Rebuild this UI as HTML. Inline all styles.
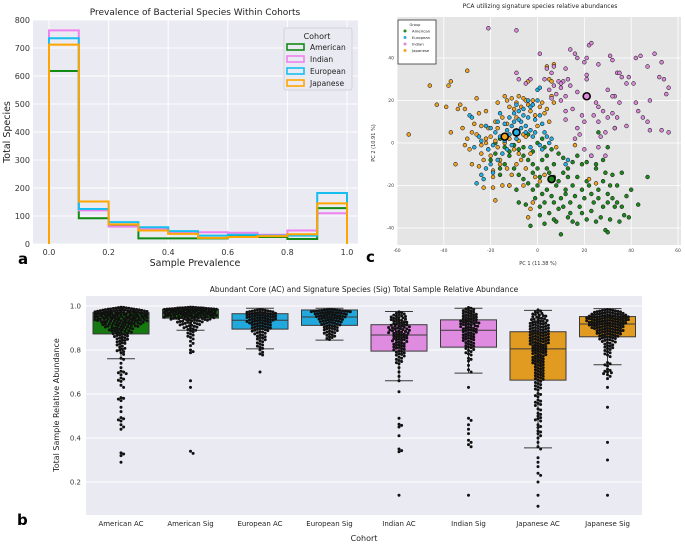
<!DOCTYPE html>
<html><head><meta charset="utf-8"><style>
html,body{margin:0;padding:0;background:#fff}
svg text{font-family:"DejaVu Sans","Liberation Sans",sans-serif}
</style></head><body>
<svg id="fig" width="685" height="546" viewBox="0 0 685 546" xmlns="http://www.w3.org/2000/svg">
<rect width="685" height="546" fill="#fff"/>
<g id="pa"></g>
<g id="pc"></g>
<g id="pb"></g>
</svg>
<script>
// ---------- Panel a data ----------
const histBins = [0,0.1,0.2,0.3,0.4,0.5,0.6,0.7,0.8,0.9,1.0];
const histSeries = ["American","Indian","European","Japanese"];
const histAmerican = [618,92,68,20,20,20,28,25,18,128];
const histIndian   = [763,120,62,55,40,42,40,33,48,110];
const histEuropean = [735,125,78,60,46,30,33,30,30,182];
const histJapanese = [712,152,70,48,36,22,25,28,35,145];
const histXTicks = [0,0.2,0.4,0.6,0.8,1.0];
const histYTicks = [0,100,200,300,400,500,600,700,800];

// ---------- Panel c data ----------
const pcaIndian = [[-21,54],[-9,53],[1,42],[14,44],[16,42],[17,40],[20,38],[21,40],[22,46],[23,47],[26,37],[31,41],[32,39],[34,33],[35,33],[36,31],[39,31],[38,28],[41,28],[42,40],[44,41],[47,36],[50,42],[53,38],[52,31],[54,30],[56,26],[55,23],[48,20],[42,19],[43,15],[45,12],[47,10],[48,6],[53,6],[56,5],[38,8],[33,7],[32,14],[35,19],[33,22],[32,22],[25,19],[26,17],[28,15],[30,12],[26,10],[24,13],[20,10],[19,13],[17,7],[18,4],[15,16],[12,15],[12,11],[10,20],[8,23],[10,26],[9,29],[11,29],[13,30],[14,27],[17,24],[12,22],[6,21],[5,25],[3,30],[4,35],[6,33],[7,36],[-3,30],[-5,28],[-9,33],[-8,30],[30,25],[34,12],[21,32],[21,30],[12,35],[10,28],[7,27],[16,2],[20,-3],[23,-6],[29,-6],[29,5],[27,3],[26,-2]];
const pcaEuropean = [[-29,13],[-28,12],[-22,8],[-20,7],[-18,5],[-16,3],[-17,10],[-14,9],[-12,12],[-10,14],[-8,15],[-6,16],[-4,12],[-3,17],[-1,11],[1,13],[2,9],[3,5],[4,3],[6,2],[1,-1],[-2,3],[-5,5],[-7,7],[-9,2],[-11,-1],[-13,-3],[-15,-5],[-17,-8],[-20,-10],[-22,-12],[-24,-15],[-26,-19],[-23,-17],[-19,-14],[-21,-3],[-19,-1],[-24,1],[-13,6],[-11,8],[-7,10],[-5,8],[-3,6],[-1,5],[0,25],[1,26],[0,20],[-2,18],[-4,20],[-6,13],[-8,11],[-10,10],[-12,4],[-14,1],[12,-10],[13,-8],[-27,-2],[-25,3],[-3,-2],[2,-3],[5,0],[-16,14],[-9,18]];
const pcaJapanese = [[-55,4],[-46,27],[-43,18],[-39,17],[-38,27],[-37,29],[-37,5],[-35,-10],[-34,16],[-33,18],[-32,7],[-31,16],[-31,-1],[-30,34],[-30,2],[-29,-3],[-28,-10],[-27,9],[-26,4],[-26,21],[-25,14],[-25,-11],[-24,-1],[-24,-5],[-23,-21],[-22,15],[-22,2],[-21,-3],[-20,-6],[-19,-21],[-19,-16],[-18,-27],[-18,10],[-17,19],[-17,-2],[-16,-8],[-15,12],[-14,22],[-13,20],[-12,17],[-11,21],[-10,16],[-9,19],[-8,22],[-7,17],[-6,21],[-5,20],[-4,18],[-3,15],[-2,20],[-1,13],[0,8],[1,17],[2,19],[3,14],[4,16],[5,10],[6,22],[7,19],[4,36],[5,30],[6,29],[7,37],[-4,29],[-16,-10],[-15,-20],[-13,-12],[-11,-15],[-9,-10],[-7,-8],[-5,-12],[-3,-5],[-1,-16],[1,-18],[-2,-28],[-3,-31],[-4,-35],[-22,0],[-20,3],[-18,1],[-14,0],[-12,2],[-10,-3],[-8,1],[-6,4],[-24,8],[-28,5],[-21,7],[-17,7],[-13,9],[-9,12],[-5,3],[3,-15],[8,-2],[16,-1],[22,-17],[25,-19],[-12,-20],[-6,-20],[-8,-5],[-19,-13],[-23,-8],[-22,2]];
const pcaAmerican = [[-18,0],[-16,2],[-14,-2],[-12,-4],[-10,-1],[-8,-3],[-6,-6],[-4,-8],[-2,-10],[0,-12],[2,-8],[4,-6],[6,-3],[3,-2],[7,-10],[9,-5],[11,-7],[13,-12],[15,-9],[17,-6],[19,-10],[21,-9],[23,-6],[25,-10],[-10,-12],[-8,-15],[-6,-17],[-4,-19],[-2,-22],[0,-20],[2,-24],[4,-22],[6,-25],[8,-20],[10,-26],[12,-22],[14,-28],[16,-25],[18,-30],[20,-26],[22,-20],[24,-28],[26,-22],[28,-18],[30,-24],[32,-15],[34,-20],[36,-14],[38,-25],[40,-22],[43,-29],[47,-16],[-3,-39],[-5,-29],[-8,-28],[-12,-20],[-14,-10],[-16,-12],[-18,-5],[-20,-8],[10,-43],[8,-37],[7,-36],[13,-35],[15,-37],[17,-38],[19,-33],[21,-36],[23,-32],[25,-37],[27,-35],[29,-41],[30,-42],[31,-36],[33,-30],[35,-37],[37,-34],[39,-35],[14,-33],[11,-30],[9,-31],[5,-33],[1,-30],[-1,-26],[3,-28],[5,-14],[7,-16],[9,-18],[11,-14],[13,-16],[15,-20],[17,-16],[19,-22],[21,-18],[23,-24],[26,-26],[28,-30],[30,-28],[32,-26],[34,-28],[36,-30],[25,-12],[28,-8],[30,-2],[33,7],[26,5],[29,-14],[31,-20],[-2,-14],[1,-16],[4,-12],[-6,-2],[-4,4],[-2,-4],[0,0],[2,2],[-12,-6],[-16,-15],[-9,-22],[7,-28],[12,-24],[3,-38],[1,-34]];
const pcaCentroids = [[6,-17],[-9,5],[21,22],[-14,3]];
const pcaXTicks = [-60,-40,-20,0,20,40,60];
const pcaYTicks = [-40,-20,0,20,40];

// ---------- Panel b data ----------
const boxCats = ["American AC","American Sig","European AC","European Sig","Indian AC","Indian Sig","Japanese AC","Japanese Sig"];
const boxQ1  = [0.873,0.945,0.895,0.912,0.795,0.813,0.663,0.860];
const boxMed = [0.935,0.965,0.935,0.950,0.868,0.890,0.805,0.918];
const boxQ3  = [0.970,0.985,0.965,0.982,0.915,0.937,0.883,0.952];
const boxLo  = [0.760,0.890,0.805,0.845,0.660,0.695,0.355,0.733];
const boxHi  = [0.990,0.995,0.990,0.990,0.975,0.990,0.980,0.988];
const boxYTicks = [0.2,0.4,0.6,0.8,1.0];
const swarmVals = [
 [0.99,0.98,0.97,0.96,0.95,0.94,0.93,0.92,0.91,0.90,0.89,0.88,0.87,0.86,0.85,0.84,0.83,0.82,0.81,0.80,0.79,0.78,0.76,0.74,0.72,0.70,0.69,0.67,0.66,0.64,0.63,0.58,0.57,0.54,0.52,0.49,0.48,0.46,0.45,0.44,0.33,0.32,0.29],
 [0.99,0.98,0.97,0.96,0.95,0.94,0.93,0.92,0.91,0.90,0.89,0.88,0.87,0.86,0.85,0.84,0.83,0.82,0.80,0.79,0.66,0.63,0.34,0.33],
 [0.98,0.97,0.96,0.95,0.94,0.93,0.92,0.91,0.90,0.89,0.88,0.87,0.86,0.85,0.84,0.83,0.82,0.81,0.80,0.79,0.78,0.70],
 [0.98,0.97,0.96,0.95,0.94,0.93,0.92,0.91,0.90,0.89,0.88,0.87,0.86,0.85],
 [0.97,0.96,0.95,0.94,0.93,0.92,0.91,0.90,0.89,0.88,0.87,0.86,0.85,0.84,0.83,0.82,0.81,0.80,0.79,0.78,0.77,0.76,0.75,0.74,0.72,0.70,0.68,0.66,0.61,0.49,0.46,0.45,0.41,0.35,0.34,0.14],
 [0.99,0.98,0.97,0.96,0.95,0.94,0.93,0.92,0.91,0.90,0.89,0.88,0.87,0.86,0.85,0.84,0.83,0.82,0.81,0.80,0.79,0.78,0.76,0.75,0.73,0.71,0.70,0.63,0.49,0.48,0.46,0.44,0.42,0.39,0.38,0.37,0.36,0.14],
 [0.98,0.97,0.96,0.95,0.94,0.93,0.92,0.91,0.90,0.89,0.88,0.87,0.86,0.85,0.84,0.83,0.82,0.81,0.80,0.79,0.78,0.77,0.76,0.75,0.74,0.73,0.72,0.71,0.70,0.69,0.68,0.67,0.66,0.65,0.64,0.63,0.62,0.60,0.59,0.57,0.56,0.55,0.53,0.51,0.50,0.49,0.48,0.46,0.45,0.43,0.42,0.41,0.40,0.38,0.36,0.35,0.31,0.29,0.27,0.24,0.23,0.20,0.14,0.09],
 [0.98,0.97,0.96,0.95,0.94,0.93,0.92,0.91,0.90,0.89,0.88,0.87,0.86,0.85,0.84,0.83,0.82,0.81,0.80,0.79,0.78,0.77,0.74,0.73,0.71,0.70,0.69,0.68,0.67,0.63,0.54,0.38,0.30,0.14]
];
const swarmCounts = [
 [10,18,22,24,22,18,14,12,10,8,7,6,5,4,4,3,3,2,2,3,2,1,2,1,1,3,2,2,2,1,1,3,1,1,1,2,2,1,1,1,2,1,1],
 [20,26,26,22,16,12,8,6,5,4,3,2,2,2,1,1,1,1,1,2,1,1,1,1],
 [8,10,10,10,9,8,7,6,6,5,4,3,3,3,2,2,2,2,1,1,2,1],
 [14,12,10,10,8,7,6,5,5,4,4,3,3,2],
 [3,4,5,5,5,5,6,6,6,6,5,5,5,4,4,4,4,3,3,3,2,2,2,2,1,1,1,1,1,1,2,1,1,1,2,1],
 [3,4,4,5,5,5,6,6,5,5,5,4,4,4,4,3,3,3,3,2,2,2,2,1,1,1,1,1,1,1,1,1,1,1,1,1,1,1],
 [2,3,4,4,5,5,6,6,6,6,6,6,6,6,6,6,5,5,5,5,4,4,4,4,4,3,3,3,3,3,3,3,2,2,2,2,2,2,2,2,2,2,2,2,1,2,2,1,2,2,1,1,1,1,1,1,1,1,1,1,1,1,1,1],
 [8,10,12,14,14,13,12,11,10,9,8,7,6,5,4,3,3,3,2,2,2,1,2,2,2,3,2,1,1,1,1,1,1,1]
];

const NS="http://www.w3.org/2000/svg";
function el(parent,tag,attrs,text){const e=document.createElementNS(NS,tag);for(const k in attrs)e.setAttribute(k,attrs[k]);if(text!==undefined)e.textContent=text;parent.appendChild(e);return e;}

// ===== Panel a =====
(function(){
 const g=document.getElementById('pa');
 const L=33,R=358,T=20,B=244;
 const xs=v=>49+v*298, ys=v=>244-v/800*224;
 const bg=el(g,'rect',{x:L,y:T,width:R-L,height:B-T,fill:'#eaeaf2'});
 
 histXTicks.forEach(t=>{el(g,'line',{x1:xs(t),x2:xs(t),y1:T,y2:B,stroke:'#fff','stroke-width':1});
  const tx=el(g,'text',{x:xs(t),y:B+11,'font-size':8,'text-anchor':'middle',fill:'#333'},t.toFixed(1));
  });
 histYTicks.forEach(t=>{el(g,'line',{x1:L,x2:R,y1:ys(t),y2:ys(t),stroke:'#fff','stroke-width':1});
  const tx=el(g,'text',{x:L-3,y:ys(t)+3,'font-size':8,'text-anchor':'end',fill:'#333'},t);
  });
 const cols={American:'#138a13',Indian:'#ee82ee',European:'#16bff0',Japanese:'#ffa500'};
 const data={American:histAmerican,Indian:histIndian,European:histEuropean,Japanese:histJapanese};
 histSeries.forEach(s=>{
  const v=data[s];let d=`M${xs(histBins[0])},${ys(0)}`;
  v.forEach((c,i)=>{d+=` L${xs(histBins[i])},${ys(c)} L${xs(histBins[i+1])},${ys(c)}`;});
  d+=` L${xs(histBins[histBins.length-1])},${ys(0)}`;
  const p=el(g,'path',{d:d,fill:'none',stroke:cols[s],'stroke-width':2});
  
 });
 const t=el(g,'text',{x:195,y:15,'font-size':9,'text-anchor':'middle',fill:'#222'},'Prevalence of Bacterial Species Within Cohorts');
 
 const xl=el(g,'text',{x:195,y:266,'font-size':9.5,'text-anchor':'middle',fill:'#222'},'Sample Prevalence');
 
 const yl=el(g,'text',{x:10,y:132,'font-size':9.5,'text-anchor':'middle',fill:'#222',transform:'rotate(-90 10 132)'},'Total Species');
 
 const lab=el(g,'text',{x:18,y:264,'font-size':15,'font-weight':'bold',fill:'#000'},'a');
 
 const lg=el(g,'g',{});
 el(lg,'rect',{x:284,y:28,width:68,height:62,fill:'#eaeaf2',stroke:'#ccc','stroke-width':0.8,rx:2});
 el(lg,'text',{x:317,y:39,'font-size':8,'text-anchor':'middle',fill:'#222'},'Cohort');
 histSeries.forEach((s,i)=>{const y=47+i*12;
  const r=el(lg,'rect',{x:287,y:y-3,width:17,height:6,fill:'none',stroke:cols[s],'stroke-width':1.6});
  
  el(lg,'text',{x:310,y:y+3,'font-size':7.5,fill:'#222'},s);});
})();

// ===== Panel c =====
(function(){
 const g=document.getElementById('pc');
 const L=397,R=681,T=17,B=245;
 const xs=v=>397+(v+60)/120*281, ys=v=>143-v*2.125;
 const bg=el(g,'rect',{x:L,y:T,width:R-L,height:B-T,fill:'#e5e5e5'});
 
 pcaXTicks.forEach(t=>{el(g,'line',{x1:xs(t),x2:xs(t),y1:T,y2:B,stroke:'#fff','stroke-width':0.8});
  el(g,'text',{x:xs(t),y:B+7,'font-size':4.5,'text-anchor':'middle',fill:'#444'},t);});
 pcaYTicks.forEach(t=>{el(g,'line',{x1:L,x2:R,y1:ys(t),y2:ys(t),stroke:'#fff','stroke-width':0.8});
  el(g,'text',{x:L-3,y:ys(t)+1.5,'font-size':4.5,'text-anchor':'end',fill:'#444'},t);});
 const groups=[['american',pcaAmerican,'#1a8a1a'],['european',pcaEuropean,'#1eb0e6'],['indian',pcaIndian,'#dd88dd'],['japanese',pcaJapanese,'#f3a320']];
 const order=[0,3,1,2];
 order.forEach(i=>{const [n,pts,c]=groups[i];
  pts.forEach(p=>{const d=el(g,'circle',{cx:xs(p[0]),cy:ys(p[1]),r:1.9,fill:c,stroke:'#222','stroke-width':0.6});
   });});
 pcaCentroids.forEach((p,i)=>{const d=el(g,'circle',{cx:xs(p[0]),cy:ys(p[1]),r:3.5,fill:groups[i][2],stroke:'#000','stroke-width':1.6});
  });
 const t=el(g,'text',{x:540,y:8,'font-size':6,'text-anchor':'middle',fill:'#222'},'PCA utilizing signature species relative abundances');
 
 const xl=el(g,'text',{x:538,y:265,'font-size':5,'text-anchor':'middle',fill:'#333'},'PC 1 (11.38 %)');
 
 const yl=el(g,'text',{x:375,y:143,'font-size':5,'text-anchor':'middle',fill:'#333',transform:'rotate(-90 375 143)'},'PC 2 (10.91 %)');
 
 const lab=el(g,'text',{x:366,y:262,'font-size':15,'font-weight':'bold',fill:'#000'},'c');
 
 const lg=el(g,'g',{});
 el(lg,'rect',{x:398,y:20,width:38,height:44,fill:'#fff',stroke:'#333','stroke-width':0.8});
 el(lg,'text',{x:415,y:26,'font-size':3.6,'text-anchor':'middle',fill:'#222'},'Group');
 ['American','European','Indian','Japanese'].forEach((s,i)=>{const y=31+i*6.5;
  const cc=[groups[0][2],groups[1][2],groups[2][2],groups[3][2]][i];
  const d=el(lg,'circle',{cx:405,cy:y,r:1.5,fill:cc});
  
  el(lg,'text',{x:412,y:y+1.3,'font-size':3.8,fill:'#222'},s);});
})();

// ===== Panel b =====
(function(){
 const g=document.getElementById('pb');
 const L=86,R=642,T=296,B=515;
 const ys=v=>306+(1-v)*220;
 const xc=i=>121+i*69.5;
 const bw=56;
 const bg=el(g,'rect',{x:L,y:T,width:R-L,height:B-T,fill:'#eaeaf2'});
 
 boxYTicks.forEach(t=>{el(g,'line',{x1:L,x2:R,y1:ys(t),y2:ys(t),stroke:'#fff','stroke-width':1});
  const tx=el(g,'text',{x:L-5,y:ys(t)+2.5,'font-size':7,'text-anchor':'end',fill:'#333'},t.toFixed(1));
  });
 const cols=['#15790f','#15790f','#21a8dc','#21a8dc','#df8ce0','#df8ce0','#e29b21','#e29b21'];
 boxCats.forEach((c,i)=>{
  const x=xc(i);
  const bx=el(g,'g',{});
  el(bx,'line',{x1:x,x2:x,y1:ys(boxHi[i]),y2:ys(boxQ3[i]),stroke:'#3a3a3a','stroke-width':1});
  el(bx,'line',{x1:x,x2:x,y1:ys(boxQ1[i]),y2:ys(boxLo[i]),stroke:'#3a3a3a','stroke-width':1});
  el(bx,'line',{x1:x-14,x2:x+14,y1:ys(boxHi[i]),y2:ys(boxHi[i]),stroke:'#3a3a3a','stroke-width':1});
  el(bx,'line',{x1:x-14,x2:x+14,y1:ys(boxLo[i]),y2:ys(boxLo[i]),stroke:'#3a3a3a','stroke-width':1});
  el(bx,'rect',{x:x-bw/2,y:ys(boxQ3[i]),width:bw,height:ys(boxQ1[i])-ys(boxQ3[i]),fill:cols[i],stroke:'#3a3a3a','stroke-width':1});
  el(bx,'line',{x1:x-bw/2,x2:x+bw/2,y1:ys(boxMed[i]),y2:ys(boxMed[i]),stroke:'#3a3a3a','stroke-width':1});
  const tx=el(g,'text',{x:x,y:B+11,'font-size':7,'text-anchor':'middle',fill:'#222'},c);
  
 });
 // swarm (width capped at box width, overlapping when dense)
 const r=1.5,d=2.6,half=26;
 swarmVals.forEach((vals,i)=>{
  const pts=[];
  vals.forEach((v,k)=>{const n=swarmCounts[i][k];for(let j=0;j<n;j++)pts.push(v+0.01*((j+0.5)/n-0.5));});
  pts.sort((a,b)=>b-a);
  const placed=[];const x0=xc(i);
  pts.forEach((v,idx)=>{
   const y=ys(v);let off=null;
   for(let k=0;k<60;k++){
    const cand=k===0?0:(k%2?1:-1)*Math.ceil(k/2)*1.3;
    if(Math.abs(cand)>half)break;
    let ok=true;
    for(const p of placed){if(Math.abs(p[1]-y)<d&&Math.hypot(p[0]-cand,p[1]-y)<d){ok=false;break;}}
    if(ok){off=cand;break;}
   }
   if(off===null){off=((idx*7.3)%(2*half))-half;}
   placed.push([off,y]);
   const c=el(g,'circle',{cx:x0+off,cy:y,r:r,fill:'#111'});
   
   
  });
 });
 const t=el(g,'text',{x:364,y:292,'font-size':7.5,'text-anchor':'middle',fill:'#222'},'Abundant Core (AC) and Signature Species (Sig) Total Sample Relative Abundance');
 
 const xl=el(g,'text',{x:364,y:541,'font-size':8,'text-anchor':'middle',fill:'#222'},'Cohort');
 
 const yl=el(g,'text',{x:59,y:405,'font-size':8,'text-anchor':'middle',fill:'#222',transform:'rotate(-90 59 405)'},'Total Sample Relative Abundance');
 
 const lab=el(g,'text',{x:17,y:525,'font-size':15,'font-weight':'bold',fill:'#000'},'b');
 
})();
</script>
</body></html>
